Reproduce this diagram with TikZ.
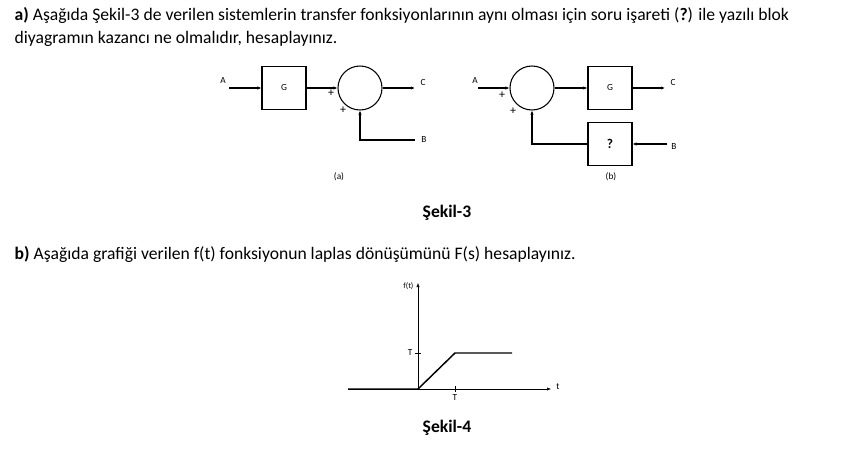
\documentclass[tikz,border=0pt]{standalone}
\usepackage{fontspec}
\setmainfont{Carlito}
\usetikzlibrary{arrows.meta}
\begin{document}
\begin{tikzpicture}[x=0.75pt,y=-0.75pt,
  blk/.style={draw,thick,minimum width=33pt,minimum height=32pt,inner sep=0pt,font=\fontsize{7}{8}\selectfont},
  sumc/.style={draw,thick,circle,minimum size=33pt,inner sep=0pt},
  lab/.style={font=\fontsize{7}{8}\selectfont,inner sep=1pt},
  pl/.style={font=\fontsize{9}{10}\selectfont,inner sep=1pt},
  big/.style={font=\fontsize{13.2}{16}\selectfont},
  bigb/.style={font=\fontsize{13.2}{16}\selectfont\bfseries},
  sig/.style={thick,-{Latex[length=3pt,width=2.5pt]}},
  ln/.style={thick}]
\useasboundingbox (0,0) rectangle (843,449);
\node[anchor=west,big] (t1) at (10,15) {\textbf{a)} Aşağıda Şekil-3 de verilen sistemlerin transfer fonksiyonlarının aynı olması için soru işareti (\textbf{?}) ile yazılı blok};
\node[anchor=west,big] (t2) at (10,39) {diyagramın kazancı ne olmalıdır, hesaplayınız.};
% (a)
\node[lab] (A1) at (223,81) {A};
\coordinate (A1s) at (229,88);
\node[blk] (G1) at (284,88) {G};
\node[sumc] (S1) at (360,88) {};
\node[lab] (C1) at (423,83) {C};
\coordinate (C1e) at (415,88);
\node[lab] (B1) at (424,140) {B};
\coordinate (B1s) at (415,140);
\draw[sig] (A1s) -- (G1.west);
\draw[sig] (G1.east) -- (S1.west);
\draw[sig] (S1.east) -- (C1e);
\draw[sig] (B1s) -| (S1.south);
\node[pl] at (331,93) {+};
\node[pl] at (343,110) {+};
\node[lab] (la) at (339,177) {(a)};
% (b)
\node[lab] (A2) at (475,81) {A};
\coordinate (A2s) at (478,88);
\node[sumc] (S2) at (532,88) {};
\node[blk] (G2) at (610,88) {G};
\node[blk] (Q) at (610,144) {\fontsize{10}{12}\selectfont\textbf{?}};
\node[lab] (C2) at (673,83) {C};
\coordinate (C2e) at (665,88);
\node[lab] (B2) at (674,147) {B};
\coordinate (B2s) at (667,144);
\draw[sig] (A2s) -- (S2.west);
\draw[sig] (S2.east) -- (G2.west);
\draw[sig] (G2.east) -- (C2e);
\draw[sig] (B2s) -- (Q.east);
\draw[sig] (Q.west) -| (S2.south);
\node[pl] at (502,95) {+};
\node[pl] at (513,111) {+};
\node[lab] (lb) at (611,177) {(b)};
\node[bigb] (s3) at (447,213) {Şekil-3};
\node[anchor=west,big] (t3) at (10,254) {\textbf{b)} Aşağıda grafiği verilen f(t) fonksiyonun laplas dönüşümünü F(s) hesaplayınız.};
% graph
\coordinate (O) at (418,389);
\coordinate (Ytop) at (418,283);
\coordinate (Xl) at (348,389);
\coordinate (Xr) at (551,389);
\coordinate (P) at (455,353);
\coordinate (Q2) at (512,353);
\draw[sig,thin] (O) -- (Ytop);
\draw[sig,thin] (Xl) -- (Xr);
\draw[line width=1.1pt] (Xl) -- (O) -- (P) -- (Q2);
\draw[thin] (415,353) -- (421,353);
\draw[thin] (455,386) -- (455,392);
\node[lab,anchor=east,font=\fontsize{6}{7}\selectfont] (ft) at (415,286) {f(t)};
\node[lab,anchor=east] (Ty) at (414,353) {T};
\node[lab] (Tx) at (455,398) {T};
\node[lab] (tl) at (558,387) {t};
\node[bigb] (s4) at (447,428) {Şekil-4};
\end{tikzpicture}
\end{document}
